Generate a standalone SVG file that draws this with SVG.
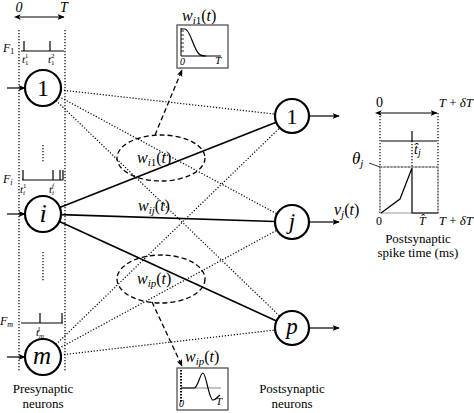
<svg xmlns="http://www.w3.org/2000/svg" width="474" height="413" viewBox="0 0 474 413">
<defs>
<marker id="ah" viewBox="0 0 10 10" refX="9" refY="5" markerWidth="7" markerHeight="7" orient="auto" markerUnits="userSpaceOnUse">
<path d="M0,1 L10,5 L0,9 L2,5 Z" fill="#000"/>
</marker>
<marker id="dah" viewBox="0 0 10 10" refX="1" refY="5" markerWidth="7" markerHeight="7" orient="auto-start-reverse" markerUnits="userSpaceOnUse">
<path d="M0,1 L10,5 L0,9 L2,5 Z" fill="#000"/>
</marker>
</defs>
<style>
text{font-family:"Liberation Serif","DejaVu Serif",serif;fill:#000}
.m{font-style:italic}
.u{font-style:normal}
.node{fill:#fff;stroke:#000;stroke-width:2.2}
.dot{stroke:#000;stroke-width:1.2;stroke-dasharray:1.2 1.8;fill:none}
.sol{stroke:#000;stroke-width:1.6;fill:none}
.dash{stroke:#000;stroke-width:1.3;stroke-dasharray:5 3;fill:none}
.thin{stroke:#000;stroke-width:1.2;fill:none}
</style>
<rect width="474" height="413" fill="#fff"/>

<g id="presynaptic-frame">
<text x="19" y="12" font-size="14" text-anchor="middle" class="m">0</text>
<text x="64" y="12" font-size="14" text-anchor="middle" class="m">T</text>
<line x1="20" y1="17" x2="64" y2="17" class="thin" marker-start="url(#dah)" marker-end="url(#ah)"/>
<line x1="19" y1="30" x2="19" y2="372" class="dot"/>
<line x1="65" y1="30" x2="65" y2="372" class="dot"/>
<line x1="43" y1="145" x2="43" y2="163" class="dot"/>
<line x1="43" y1="252" x2="43" y2="282" class="dot"/>
</g>

<g id="spike-train-1">
<text x="3" y="52" font-size="12" class="m">F<tspan font-size="8" dy="2" class="u">1</tspan></text>
<line x1="21" y1="51" x2="64" y2="51" class="thin"/>
<line x1="24" y1="41" x2="24" y2="51" class="thin"/>
<line x1="50" y1="41" x2="50" y2="51" class="thin"/>
<text x="22" y="63" font-size="11" class="m">t<tspan font-size="7" dy="2" class="u">1</tspan><tspan font-size="7" dx="-3.5" dy="-7" class="u">1</tspan></text>
<text x="48" y="63" font-size="11" class="m">t<tspan font-size="7" dy="2" class="u">1</tspan><tspan font-size="7" dx="-3.5" dy="-7" class="u">2</tspan></text>
</g>

<g id="spike-train-i">
<text x="3" y="183" font-size="12" class="m">F<tspan font-size="8" dy="2">i</tspan></text>
<line x1="22" y1="180" x2="63" y2="180" class="thin"/>
<line x1="23" y1="170" x2="23" y2="180" class="thin"/>
<line x1="53" y1="170" x2="53" y2="180" class="thin"/>
<line x1="60" y1="170" x2="60" y2="180" class="thin"/>
<line x1="63" y1="170" x2="63" y2="180" class="thin"/>
<text x="20" y="193" font-size="11" class="m">t<tspan font-size="7" dy="2">i</tspan><tspan font-size="7" dx="-2" dy="-7" class="u">1</tspan></text>
<text x="49" y="193" font-size="11" class="m">t<tspan font-size="7" dy="2">i</tspan><tspan font-size="7" dx="-2" dy="-7">f</tspan></text>
</g>

<g id="spike-train-m">
<text x="0" y="325" font-size="12" class="m">F<tspan font-size="8" dy="2">m</tspan></text>
<line x1="21" y1="323" x2="63" y2="323" class="thin"/>
<line x1="40" y1="313" x2="40" y2="323" class="thin"/>
<line x1="62" y1="313" x2="62" y2="323" class="thin"/>
<text x="36" y="336" font-size="11" class="m">t<tspan font-size="7" dy="2">m</tspan><tspan font-size="7" dx="-7" dy="-7" class="u">1</tspan></text>
</g>

<g id="connectors">
<line x1="60.9" y1="90.0" x2="275.1" y2="114.1" class="dot"/>
<line x1="58.8" y1="96.5" x2="277.0" y2="213.9" class="dot"/>
<line x1="56.0" y1="100.5" x2="279.8" y2="316.2" class="dot"/>
<line x1="59.7" y1="207.4" x2="276.2" y2="122.2" class="sol"/>
<line x1="61.0" y1="214.6" x2="275.0" y2="221.5" class="sol"/>
<line x1="59.4" y1="221.5" x2="276.5" y2="320.9" class="sol"/>
<line x1="55.9" y1="344.5" x2="279.8" y2="127.8" class="dot"/>
<line x1="58.8" y1="348.4" x2="277.1" y2="230.1" class="dot"/>
<line x1="60.9" y1="354.9" x2="275.1" y2="330.0" class="dot"/>
<line x1="7" y1="88" x2="25" y2="88" class="thin" marker-end="url(#ah)"/>
<line x1="7" y1="214" x2="25" y2="214" class="thin" marker-end="url(#ah)"/>
<line x1="7" y1="357" x2="25" y2="357" class="thin" marker-end="url(#ah)"/>
<line x1="309" y1="116" x2="339" y2="116" class="thin" marker-end="url(#ah)"/>
<line x1="309" y1="222" x2="339" y2="222" class="thin" marker-end="url(#ah)"/>
<line x1="309" y1="328" x2="339" y2="328" class="thin" marker-end="url(#ah)"/>
<line x1="155" y1="135" x2="182" y2="70" class="dash" marker-end="url(#ah)"/>
<line x1="152" y1="302" x2="182" y2="366" class="dash" marker-end="url(#ah)"/>
</g>

<g id="pre-1">
<circle cx="43" cy="88" r="18" class="node"/>
<text x="43" y="96" font-size="24" text-anchor="middle">1</text>
</g>
<g id="pre-i">
<circle cx="43" cy="214" r="18" class="node"/>
<text x="43" y="222" font-size="26" text-anchor="middle" class="m">i</text>
</g>
<g id="pre-m">
<circle cx="43" cy="357" r="18" class="node"/>
<text x="42" y="364" font-size="25" text-anchor="middle" class="m">m</text>
</g>

<g id="post-1">
<circle cx="292" cy="116" r="17" class="node"/>
<text x="292" y="124" font-size="22" text-anchor="middle">1</text>
</g>
<g id="post-j">
<circle cx="292" cy="222" r="17" class="node"/>
<text x="292" y="229" font-size="23" text-anchor="middle" class="m">j</text>
</g>
<g id="post-p">
<circle cx="292" cy="328" r="17" class="node"/>
<text x="292" y="334" font-size="23" text-anchor="middle" class="m">p</text>
</g>

<g id="weight-i1">
<ellipse cx="161" cy="158" rx="44" ry="23" class="dash"/>
<text x="137" y="163" font-size="16" class="m">w<tspan font-size="11" dy="3">i</tspan><tspan font-size="11" class="u">1</tspan><tspan dy="-3" class="u">(</tspan>t<tspan class="u">)</tspan></text>
</g>
<g id="weight-ij">
<text x="138" y="211" font-size="16" class="m">w<tspan font-size="11" dy="3">ij</tspan><tspan dy="-3" class="u">(</tspan>t<tspan class="u">)</tspan></text>
</g>
<g id="weight-ip">
<ellipse cx="161" cy="279" rx="44" ry="24" class="dash"/>
<text x="137" y="284" font-size="16" class="m">w<tspan font-size="11" dy="3">ip</tspan><tspan dy="-3" class="u">(</tspan>t<tspan class="u">)</tspan></text>
</g>

<g id="box-i1">
<text x="182" y="21" font-size="16" class="m">w<tspan font-size="11" dy="3">i</tspan><tspan font-size="11" class="u">1</tspan><tspan dy="-3" class="u">(</tspan>t<tspan class="u">)</tspan></text>
<rect x="177" y="25" width="51" height="43" fill="#fff" stroke="#444" stroke-width="1.2"/>
<line x1="181" y1="28" x2="181" y2="56" stroke="#000" stroke-width="1"/>
<path d="M181,31h3M181,35h3M181,39h3M181,43h3M181,47h3M181,51h3" stroke="#000" stroke-width="0.8"/>
<line x1="181" y1="56" x2="221" y2="56" stroke="#000" stroke-width="1"/>
<path d="M181,29 L185,29 C190,29 193,48 199,54 C201,56 203,56 206,56" class="thin"/>
<text x="180" y="65" font-size="10" class="m">0</text>
<text x="215" y="64" font-size="11" class="m">T</text>
</g>

<g id="box-ip">
<text x="185" y="362" font-size="16" class="m">w<tspan font-size="11" dy="3">ip</tspan><tspan dy="-3" class="u">(</tspan>t<tspan class="u">)</tspan></text>
<rect x="177" y="368" width="51" height="42" fill="#fff" stroke="#444" stroke-width="1.2"/>
<line x1="181" y1="370" x2="181" y2="402" stroke="#000" stroke-width="2" stroke-dasharray="1.5 1.5"/>
<line x1="181" y1="388" x2="221" y2="388" stroke="#888" stroke-width="1"/>
<path d="M181,388 L194,388 C198,388 200,373 203,373 C206,373 209,400 213,400 C216,400 218,396 220,395" class="thin"/>
<text x="179" y="407" font-size="10" class="m">0</text>
<text x="216" y="405" font-size="11" class="m">T</text>
</g>

<g id="output-panel">
<text x="376" y="107" font-size="14">0</text>
<text x="473" y="107" font-size="13" text-anchor="end" class="m">T<tspan class="u"> + </tspan>δT</text>
<line x1="381" y1="113" x2="437" y2="113" class="thin" marker-start="url(#dah)" marker-end="url(#ah)"/>
<line x1="380" y1="113" x2="380" y2="213" class="dot"/>
<line x1="438" y1="113" x2="438" y2="213" class="dot"/>
<line x1="381" y1="141" x2="437" y2="141" class="thin"/>
<line x1="412" y1="131" x2="412" y2="141" class="thin"/>
<line x1="412" y1="141" x2="412" y2="167" class="dot"/>
<text x="414" y="154" font-size="14" class="m">t̂<tspan font-size="10" dy="2">j</tspan></text>
<line x1="380" y1="167" x2="438" y2="167" stroke="#000" stroke-width="1" stroke-dasharray="2 1.5"/>
<rect x="380" y="167" width="58" height="46" fill="none" stroke="#999" stroke-width="1"/>
<text x="352" y="164" font-size="17" class="m">θ<tspan font-size="11" dy="3">j</tspan></text>
<line x1="369" y1="163" x2="380" y2="167" stroke="#000" stroke-width="0.8"/>
<path d="M381,213 L400,199 L412,168 L412,213 L438,213" class="thin"/>
<text x="334" y="215" font-size="16" class="m">v<tspan font-size="11" dy="3">j</tspan><tspan dy="-3" class="u">(</tspan>t<tspan class="u">)</tspan></text>
<text x="376" y="225" font-size="12">0</text>
<text x="419" y="225" font-size="12" class="m">T̂</text>
<text x="473" y="225" font-size="13" text-anchor="end" class="m">T<tspan class="u"> + </tspan>δT</text>
<text x="418" y="243" font-size="13" text-anchor="middle">Postsynaptic</text>
<text x="418" y="257" font-size="13" text-anchor="middle">spike time (ms)</text>
</g>

<g id="labels">
<text x="43" y="393" font-size="13" text-anchor="middle">Presynaptic</text>
<text x="43" y="408" font-size="13" text-anchor="middle">neurons</text>
<text x="292" y="393" font-size="13" text-anchor="middle">Postsynaptic</text>
<text x="292" y="408" font-size="13" text-anchor="middle">neurons</text>
</g>
</svg>
